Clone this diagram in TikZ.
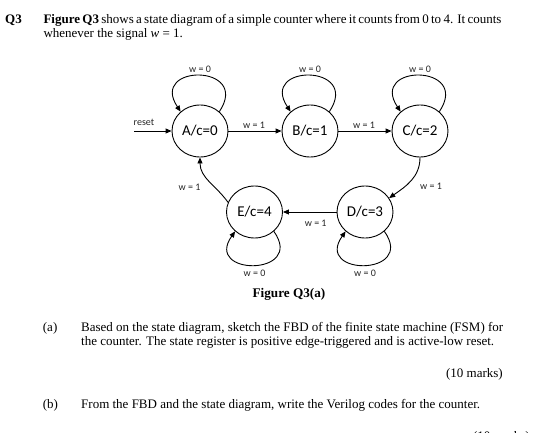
\documentclass[tikz,border=0pt]{standalone}
\usepackage{fontspec}
\setmainfont{Liberation Serif}
\newfontfamily\diagfont{Carlito}
\usetikzlibrary{shapes.geometric,arrows.meta}
\begin{document}
\begin{tikzpicture}[x=1pt,y=1pt,
  state/.style={ellipse,draw,line width=0.9pt,minimum width=56pt,minimum height=52pt,inner sep=0pt,
    font=\diagfont\fontsize{15}{18}\selectfont},
  lbl/.style={font=\diagfont\fontsize{10}{12}\selectfont,text=black!85,inner sep=0pt},
  conn/.style={line width=0.9pt,-{Triangle[length=6pt,width=5pt]}},
  body/.style={font=\fontsize{13}{15}\selectfont,inner sep=0pt,anchor=base west},
  bodyr/.style={font=\fontsize{13}{15}\selectfont,inner sep=0pt,anchor=base east}
]
\useasboundingbox (0,0) rectangle (554,432);
% states
\node[state] (A) at (200,301) {A/c=0};
\node[state] (B) at (310,301) {B/c=1};
\node[state] (C) at (420,301) {C/c=2};
\node[state] (E) at (254.5,220) {E/c=4};
\node[state] (D) at (365,220) {D/c=3};
% self loops
\draw[conn] (A.45) .. controls +(32,48) and +(-32,48) .. (A.135);
\draw[conn] (B.45) .. controls +(32,48) and +(-32,48) .. (B.135);
\draw[conn] (C.45) .. controls +(32,48) and +(-32,48) .. (C.135);
\draw[conn] (E.-45) .. controls +(32,-45) and +(-32,-45) .. (E.-135);
\draw[conn] (D.-45) .. controls +(32,-45) and +(-32,-45) .. (D.-135);
\node[lbl] (lA) at (200,363) {w = 0};
\node[lbl] (lB) at (310,363) {w = 0};
\node[lbl] (lC) at (420,363) {w = 0};
\node[lbl] (lE) at (254.5,159) {w = 0};
\node[lbl] (lD) at (365,159) {w = 0};
% reset
\coordinate (rs) at (134,301);
\draw[conn] (rs) -- (A.west);
\node[lbl] (lrs) at (144,310) {reset};
% transitions
\draw[conn] (A) -- (B);
\node[lbl] (lAB) at (254,307) {w = 1};
\draw[conn] (B) -- (C);
\node[lbl] (lBC) at (364,307) {w = 1};
\draw[conn] (C.south) to[out=-90,in=35] (D.30);
\node[lbl] (lCD) at (431,246) {w = 1};
\draw[conn] (D) -- (E);
\node[lbl] (lDE) at (315.7,209) {w = 1};
\draw[conn] (E.160) to[out=125,in=-90] (A.south);
\node[lbl] (lEA) at (189.5,245) {w = 1};
% caption
\node[font=\fontsize{13.2}{15}\selectfont\bfseries,inner sep=0pt] (cap) at (289,138) {Figure Q3(a)};
% text
\node[body] (q3) at (5,408.5) {\textbf{Q3}};
\node[body] (t1) at (43.3,408.5) {\makebox[458pt][s]{\textbf{Figure Q3} shows a state diagram of a simple counter where it counts from 0 to 4. It counts}};
\node[body] (t2) at (43.3,394) {whenever the signal \textit{w} = 1.};
\node[body] (pa) at (42.7,101) {(a)};
\node[body] (a1) at (81,101) {\makebox[422pt][s]{Based on the state diagram, sketch the FBD of the finite state machine (FSM) for}};
\node[body] (a2) at (81,87) {the counter. The state register is positive edge-triggered and is active-low reset.};
\node[bodyr] (m1) at (503,55) {(10 marks)};
\node[body] (pb) at (42.7,23.5) {(b)};
\node[body] (b1) at (81,23.5) {From the FBD and the state diagram, write the Verilog codes for the counter.};
\node[bodyr] (m2) at (530,-8) {(10 marks)};
\end{tikzpicture}
\end{document}
